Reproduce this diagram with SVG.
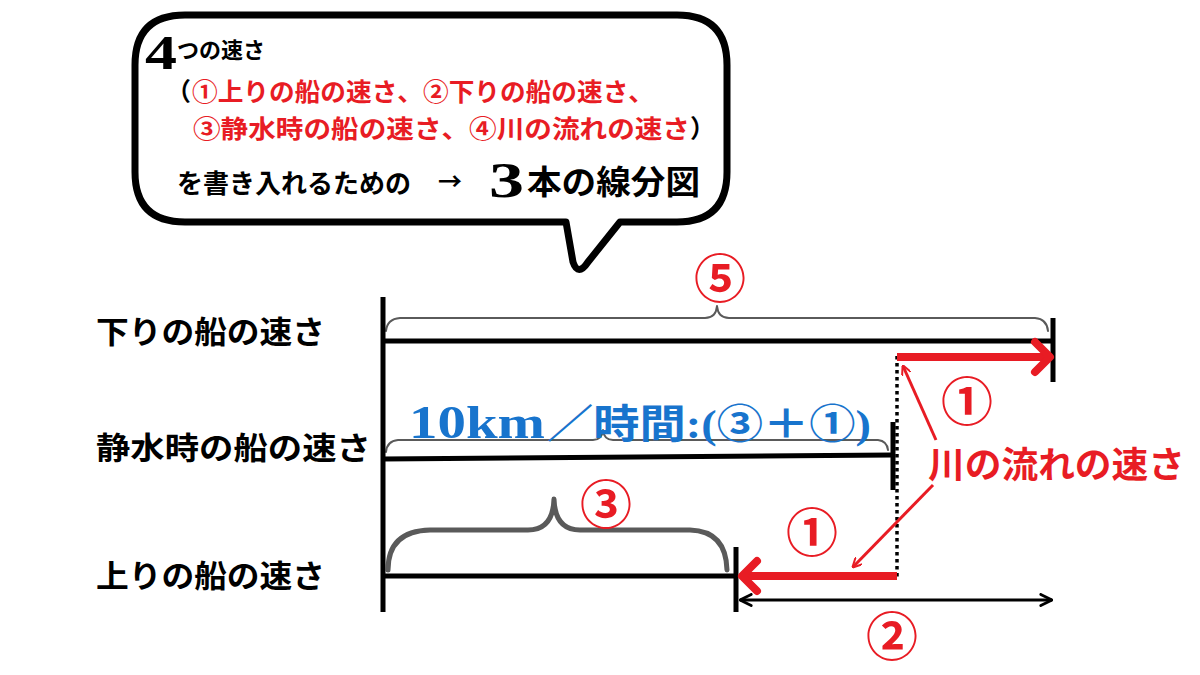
<svg xmlns="http://www.w3.org/2000/svg" width="1200" height="675" viewBox="0 0 1200 675">
<style>
.jp{font-family:"Noto Sans CJK JP","Noto Sans",sans-serif;font-weight:700}
.blk{fill:#000}
.red{fill:#e81c24}
.line{stroke:#000;stroke-width:5;fill:none}
.brace{stroke:#5a5a5a;fill:none;stroke-linecap:round;stroke-linejoin:round}
.num{font-family:"Noto Sans CJK JP",sans-serif;font-weight:700;fill:#e81c24;font-size:52px;text-anchor:middle}
.blue{font-family:"Liberation Serif","Noto Sans CJK JP",serif;font-weight:700;fill:#1874cd}
</style>
<defs>
<marker id="redhead" viewBox="0 0 10 10" refX="9" refY="5" markerWidth="10" markerHeight="10" markerUnits="userSpaceOnUse" orient="auto">
<path d="M0,0 L10,5 L0,10" fill="none" stroke="#e81c24" stroke-width="2"/>
</marker>
<marker id="blkhead" viewBox="0 0 10 10" refX="9" refY="5" markerWidth="14" markerHeight="14" markerUnits="userSpaceOnUse" orient="auto-start-reverse">
<path d="M1,1 L9,5 L1,9" fill="none" stroke="#000" stroke-width="2" stroke-linecap="round" stroke-linejoin="round"/>
</marker>
</defs>
<rect width="1200" height="675" fill="#fff"/>

<g id="bubble">
<path d="M185,15 H677 Q727,15 727,65 V172 Q727,222 677,222 H620 L588,262 Q578,277 573,262 L566,222 H185 Q135,222 135,172 V65 Q135,15 185,15 Z" fill="#fff" stroke="#000" stroke-width="7" stroke-linejoin="round"/>
<text x="145" y="69" font-family="Liberation Serif,serif" font-weight="700" font-size="48" class="blk" textLength="32" lengthAdjust="spacingAndGlyphs">4</text>
<text x="177" y="58" class="jp blk" font-size="22">つの速さ</text>
<text x="166" y="101" class="jp blk" font-size="25">（</text>
<text x="192" y="101" class="jp red" font-size="25" textLength="462" lengthAdjust="spacingAndGlyphs">①上りの船の速さ、②下りの船の速さ、</text>
<text x="193" y="138" class="jp red" font-size="25" textLength="497" lengthAdjust="spacingAndGlyphs">③静水時の船の速さ、④川の流れの速さ</text>
<text x="690" y="138" class="jp blk" font-size="25">）</text>
<text x="177" y="193" class="jp blk" font-size="26" textLength="234" lengthAdjust="spacingAndGlyphs">を書き入れるための</text>
<text x="438" y="190" class="jp blk" font-size="24">→</text>
<text x="489" y="197" font-family="Liberation Serif,serif" font-weight="700" font-size="50" class="blk" textLength="35" lengthAdjust="spacingAndGlyphs">3</text>
<text x="527" y="194" class="jp blk" font-size="33" textLength="173" lengthAdjust="spacingAndGlyphs">本の線分図</text>
</g>

<g id="labels">
<text x="96" y="343" class="jp blk" font-size="31" textLength="229" lengthAdjust="spacingAndGlyphs">下りの船の速さ</text>
<text x="96" y="459" class="jp blk" font-size="31" textLength="275" lengthAdjust="spacingAndGlyphs">静水時の船の速さ</text>
<text x="96" y="587" class="jp blk" font-size="31" textLength="229" lengthAdjust="spacingAndGlyphs">上りの船の速さ</text>
</g>

<g id="down-line">
<line x1="383" y1="341" x2="1053" y2="341" class="line"/>
<line x1="1053" y1="318" x2="1053" y2="382" class="line"/>
<path d="M386,331 Q387,319 400,318 H705 Q716,318 717,306 Q718,318 729,318 H1035 Q1047,319 1048,331" class="brace" stroke-width="2"/>
<text x="720" y="298" class="num">⑤</text>
</g>

<g id="still-line">
<line x1="383" y1="459" x2="893" y2="455" class="line"/>
<line x1="893" y1="422" x2="893" y2="490" class="line"/>
<path d="M386,452 Q387,441 398,440 H593 Q602,440 603,430 Q604,440 613,440 H878 Q887,441 888,450" class="brace" stroke-width="2"/>
<text x="409" y="438" class="blue" font-size="46" textLength="136" lengthAdjust="spacingAndGlyphs">10km</text>
<text x="547" y="438" class="blue" font-size="40" textLength="324" lengthAdjust="spacingAndGlyphs">／時間:(③＋①)</text>
</g>

<g id="up-line">
<line x1="383" y1="576" x2="736" y2="576" class="line"/>
<line x1="736" y1="547" x2="736" y2="612" class="line"/>
<path d="M388,570 Q388,531 430,530 H528 Q553,530 554,499 Q555,530 580,530 H690 Q726,531 727,570" class="brace" stroke-width="5"/>
<text x="606" y="524" class="num">③</text>
</g>

<g id="axis">
<line x1="383" y1="297" x2="383" y2="612" class="line"/>
</g>

<g id="connectors">
<line x1="897" y1="356" x2="897" y2="578" stroke="#000" stroke-width="3.5" stroke-dasharray="3.5,3.5"/>
<path d="M897,357 H1047" stroke="#e81c24" stroke-width="8" fill="none"/>
<path d="M1035,342 L1050,357 L1035,372" stroke="#e81c24" stroke-width="8" fill="none" stroke-linecap="round" stroke-linejoin="round"/>
<path d="M897,576 H745" stroke="#e81c24" stroke-width="8" fill="none"/>
<path d="M757,561 L742,576 L757,591" stroke="#e81c24" stroke-width="8" fill="none" stroke-linecap="round" stroke-linejoin="round"/>
<line x1="740" y1="600" x2="1052" y2="600" stroke="#000" stroke-width="3" marker-start="url(#blkhead)" marker-end="url(#blkhead)"/>
<line x1="936" y1="440" x2="903" y2="366" stroke="#e81c24" stroke-width="3" marker-end="url(#redhead)"/>
<line x1="933" y1="485" x2="853" y2="567" stroke="#e81c24" stroke-width="3" marker-end="url(#redhead)"/>
</g>

<g id="annotations">
<text x="967" y="421" class="num">①</text>
<text x="812" y="552" class="num">①</text>
<text x="892" y="656" class="num">②</text>
<text x="928" y="478" class="jp red" font-size="36" textLength="257" lengthAdjust="spacingAndGlyphs">川の流れの速さ</text>
</g>
</svg>
